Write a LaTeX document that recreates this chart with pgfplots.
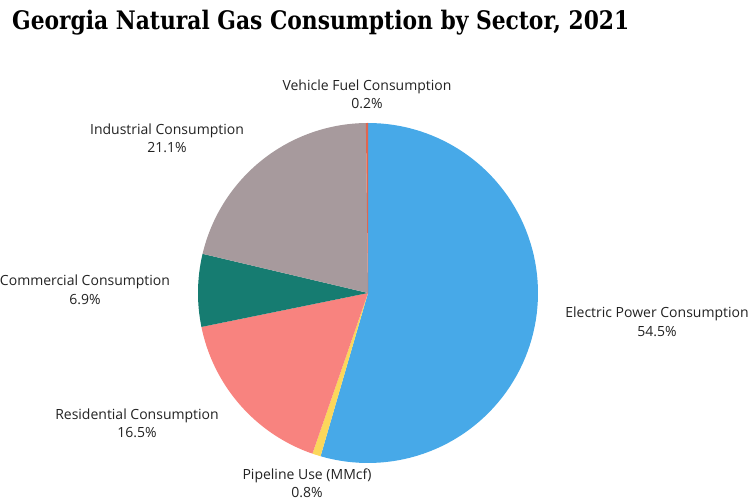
\documentclass[border=0pt]{standalone}
\usepackage{pgfplots}
\usepackage{pgfplotstable}
\usepackage{fontspec}
\setmainfont{Open Sans}
\newfontfamily\titlefont{DejaVu Serif}
\pgfplotsset{compat=1.18}

% Sector shares of natural gas consumption (percent), clockwise from 12 o'clock
\pgfplotstableread[col sep=comma]{
sector,share
Electric,54.5
Pipeline,0.8
Residential,16.5
Commercial,6.9
Industrial,21.1
Vehicle,0.2
}\gasdata

\definecolor{slice0}{HTML}{47A9E8}
\definecolor{slice1}{HTML}{FBD75B}
\definecolor{slice2}{HTML}{F8837F}
\definecolor{slice3}{HTML}{167C71}
\definecolor{slice4}{HTML}{A79A9D}
\definecolor{slice5}{HTML}{E06650}
\definecolor{labeltext}{HTML}{222222}

\begin{document}
\begin{tikzpicture}[x=1pt,y=1pt]
\path[use as bounding box] (0,0) rectangle (750,500);

\node[anchor=base west, inner sep=0pt, font=\titlefont\bfseries\fontsize{25.5}{30}\selectfont, xscale=0.855]
  at (12,470) {Georgia Natural Gas Consumption by Sector, 2021};

\begin{axis}[
  at={(368pt,207pt)}, anchor=center,
  scale only axis, width=340pt, height=340pt,
  xmin=-1, xmax=1, ymin=-1, ymax=1,
  hide axis, clip=false,
]
\def\cum{0}
\pgfplotsforeachungrouped \i in {0,...,5}{
  \pgfplotstablegetelem{\i}{share}\of\gasdata
  \let\share=\pgfplotsretval
  \pgfmathsetmacro\angstart{90-3.6*(\cum+\share)}
  \pgfmathsetmacro\angend{90-3.6*\cum}
  \pgfmathsetmacro\cum{\cum+\share}
  \edef\doslice{\noexpand\addplot[fill=slice\i, draw=none, domain=\angstart:\angend, samples=90]
    ({cos(x)},{sin(x)}) -- (axis cs:0,0) -- cycle;}
  \doslice
}
\end{axis}

\begin{scope}[every node/.style={align=center, text=labeltext, font=\fontsize{14}{18.5}\selectfont}]
\node at (367,405.5) {Vehicle Fuel Consumption\\0.2\%};
\node at (167,361.5) {Industrial Consumption\\21.1\%};
\node at (85,210) {Commercial Consumption\\6.9\%};
\node at (137,76.5) {Residential Consumption\\16.5\%};
\node at (307,17) {Pipeline Use (MMcf)\\0.8\%};
\node at (657,178) {Electric Power Consumption\\54.5\%};
\end{scope}
\end{tikzpicture}
\end{document}
